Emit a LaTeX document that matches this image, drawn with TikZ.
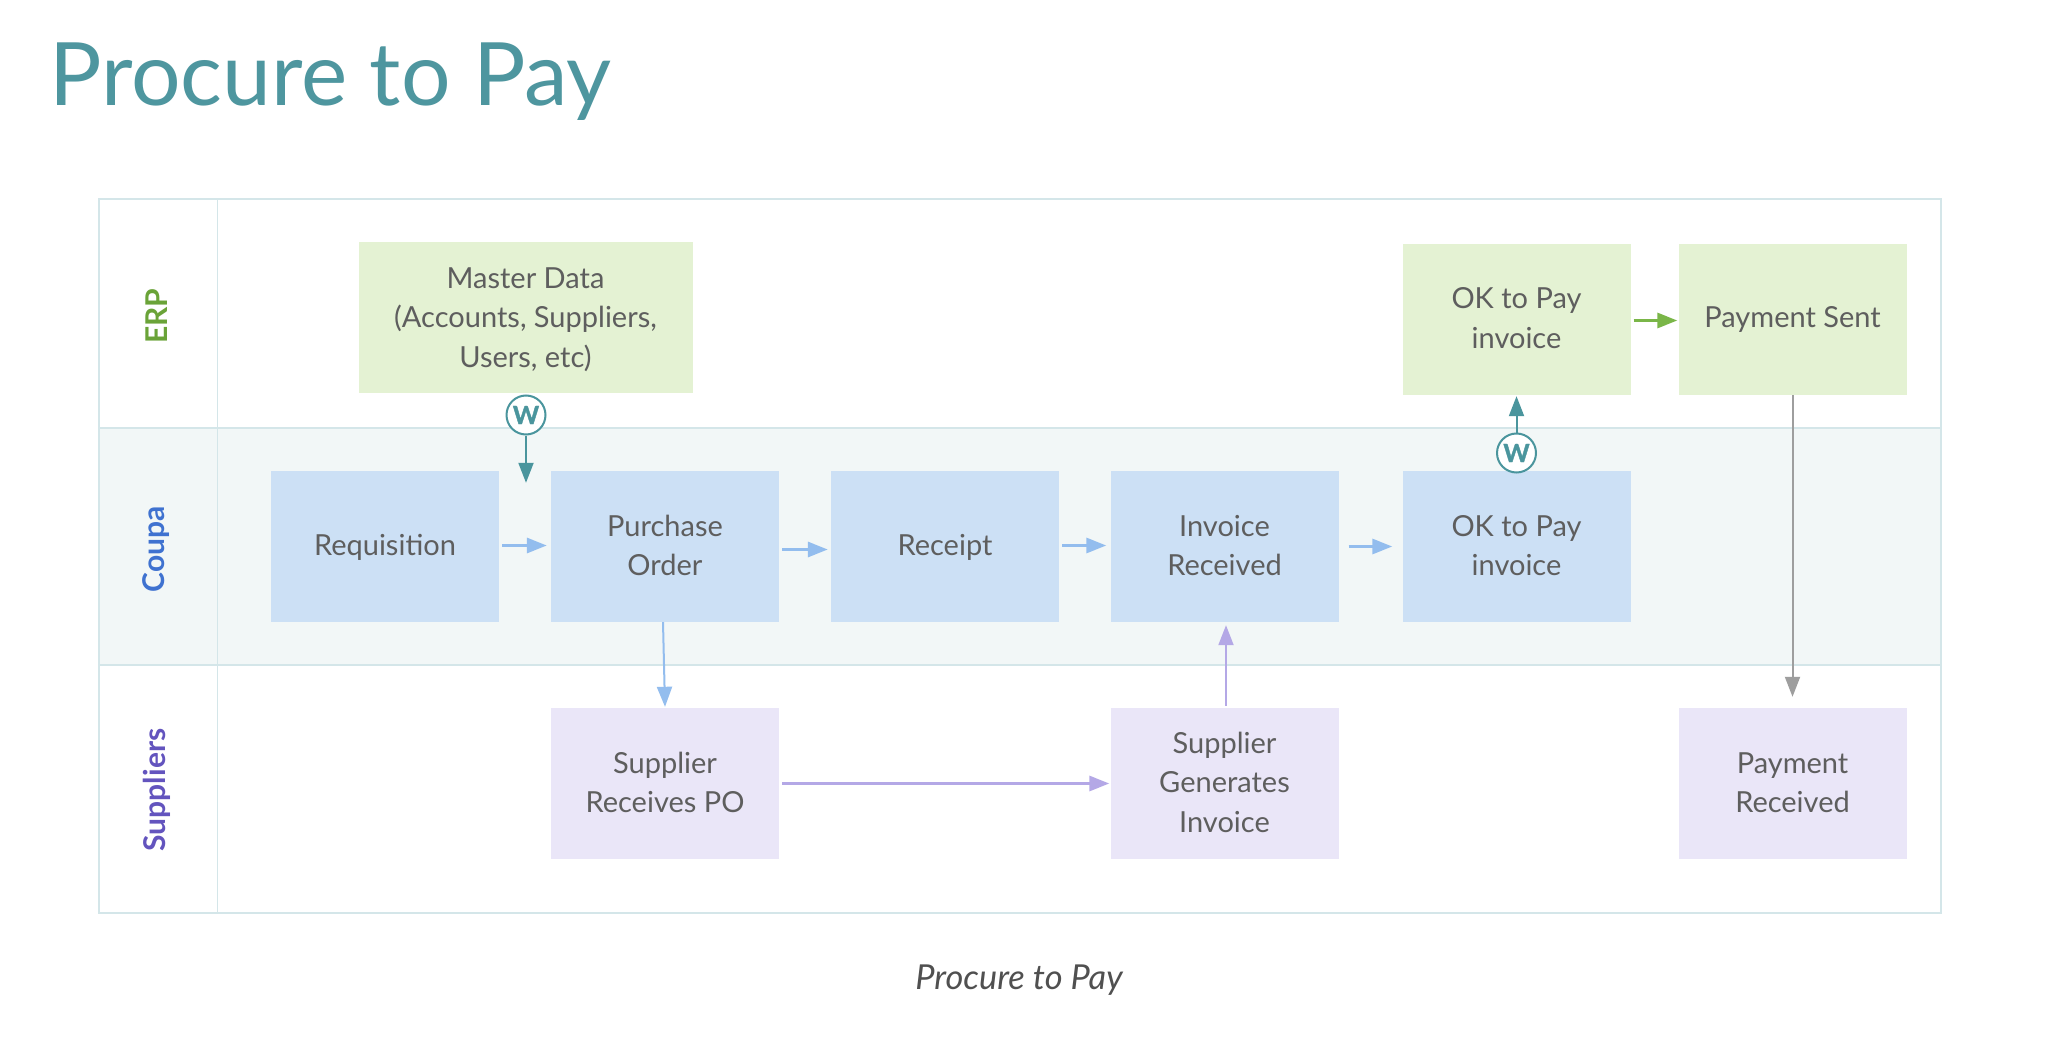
\documentclass[tikz,border=0pt]{standalone}
\usepackage{fontspec}
\usepackage{graphicx}
\setmainfont{Lato}
\newfontfamily\heavyfont[FakeBold=1.5]{Lato Bold}
\usetikzlibrary{arrows.meta,calc}
\definecolor{txt}{HTML}{5E5E5E}
\definecolor{titlec}{HTML}{4E969F}
\definecolor{framec}{HTML}{D4E6E9}
\definecolor{lanec}{HTML}{F2F7F7}
\definecolor{gfill}{HTML}{E4F2D3}
\definecolor{bfill}{HTML}{CCE0F5}
\definecolor{pfill}{HTML}{EAE6F8}
\definecolor{bflow}{HTML}{93BDEE}
\definecolor{pflow}{HTML}{B4A8E6}
\definecolor{gflow}{HTML}{7AB648}
\definecolor{tflow}{HTML}{4A959D}
\definecolor{grayflow}{HTML}{9E9E9E}
\definecolor{erpc}{HTML}{6AA338}
\definecolor{coupac}{HTML}{3F72D0}
\definecolor{supc}{HTML}{6354BE}
\newcommand{\tx}[2][-1.5pt]{\raisebox{#1}[\height][\depth]{\begin{tabular}{@{}c@{}}#2\end{tabular}}}
\tikzset{
  box/.style={minimum width=228pt,minimum height=151pt,inner sep=0pt,align=center,
    text=txt,font=\fontsize{29}{39.4}\selectfont},
  gbox/.style={box,fill=gfill},
  bbox/.style={box,fill=bfill},
  pbox/.style={box,fill=pfill},
  flow/.style={line width=#1,-{Triangle[length=20pt,width=15pt]}},
  flow/.default=2pt,
  wmark/.style={circle,draw=tflow,fill=white,line width=2pt,minimum size=39pt,inner sep=0pt,
    text=tflow,font=\fontsize{25}{25}\heavyfont},
  lanelabel/.style={rotate=90,inner sep=0pt,font=\fontsize{30}{30}\selectfont\bfseries},
}
\begin{document}
\begin{tikzpicture}[x=1pt,y=-1pt]
\useasboundingbox (0,0) rectangle (2048,1064);
\fill[white] (0,0) rectangle (2048,1064);
\node[anchor=base west,inner sep=0pt,text=titlec,font=\fontsize{87.5}{87.5}\selectfont] (title) at (49,105.5) {Procure to Pay};
% lanes
\fill[lanec] (99,428) rectangle (1941,665);
\draw[framec,line width=2.2pt] (99,199) rectangle (1941,913);
\draw[framec,line width=2.2pt] (99,428) -- (1941,428);
\draw[framec,line width=2.2pt] (99,665) -- (1941,665);
\draw[framec,line width=1.5pt] (217.5,200) -- (217.5,912);
\node[lanelabel,text=erpc] (erp) at (156.5,316) {ERP};
\node[lanelabel,text=coupac] (coupa) at (156.5,549.5) {Coupa};
\node[lanelabel,text=supc] (sup) at (156.5,790) {Suppliers};
% boxes
\node[gbox,minimum width=334pt] (master) at (525.5,318) {\tx[-2pt]{Master Data\\(Accounts, Suppliers,\\Users, etc)}};
\node[gbox] (okerp) at (1516.5,319.5) {\tx[-1pt]{OK to Pay\\invoice}};
\node[gbox] (sent) at (1792.5,319.5) {\tx[-0.5pt]{Payment Sent}};
\node[bbox] (req) at (385,546.5) {\tx{Requisition}};
\node[bbox] (po) at (665,546.5) {\tx{Purchase\\Order}};
\node[bbox] (rec) at (945,546.5) {\tx{Receipt}};
\node[bbox] (inv) at (1224.5,546.5) {\tx{Invoice\\Received}};
\node[bbox] (okc) at (1516.5,546.5) {\tx{OK to Pay\\invoice}};
\node[pbox] (srp) at (665,783.5) {\tx{Supplier\\Receives PO}};
\node[pbox] (sgi) at (1224.5,783.5) {\tx{Supplier\\Generates\\Invoice}};
\node[pbox] (prc) at (1792.5,783.5) {\tx{Payment\\Received}};
% wave marks
\node[wmark] (w1) at (526,415) {W};
\node[wmark] (w2) at (1516.5,453) {W};
% connectors
\draw[flow=3pt,bflow] ([shift={(3,-1)}]req.east) -- ([shift={(-4,-1)}]po.west);
\draw[flow=3pt,bflow] ([shift={(3,3)}]po.east) -- ([shift={(-3,3)}]rec.west);
\draw[flow=3pt,bflow] ([shift={(3,-1)}]rec.east) -- ([shift={(-4,-1)}]inv.west);
\draw[flow=3pt,bflow] ([shift={(10,0)}]inv.east) -- ([shift={(-10,0)}]okc.west);
\draw[flow,bflow] ([shift={(-2,0)}]po.south) -- ([shift={(0,-1)}]srp.north);
\draw[flow=3pt,pflow] ([shift={(3,0)}]srp.east) -- ([shift={(-1,0)}]sgi.west);
\draw[flow,pflow] ([shift={(1.5,-2)}]sgi.north) -- ([shift={(1.5,3)}]inv.south);
\draw[flow=3pt,gflow] ([shift={(3,1)}]okerp.east) -- ([shift={(-1,1)}]sent.west);
\draw[flow,grayflow] (sent.south) -- ([shift={(0,-11)}]prc.north);
\draw[flow,tflow] (w1.south) -- ([shift={(0,12)}]req.north -| w1.south);
\draw[flow,tflow] (w2.north) -- ([shift={(0,1)}]okerp.south);
\node[inner sep=0pt,text=txt!85!black,font=\fontsize{34.4}{34.4}\selectfont\itshape] (caption) at (1019,980) {Procure to Pay};
\end{tikzpicture}
\end{document}
